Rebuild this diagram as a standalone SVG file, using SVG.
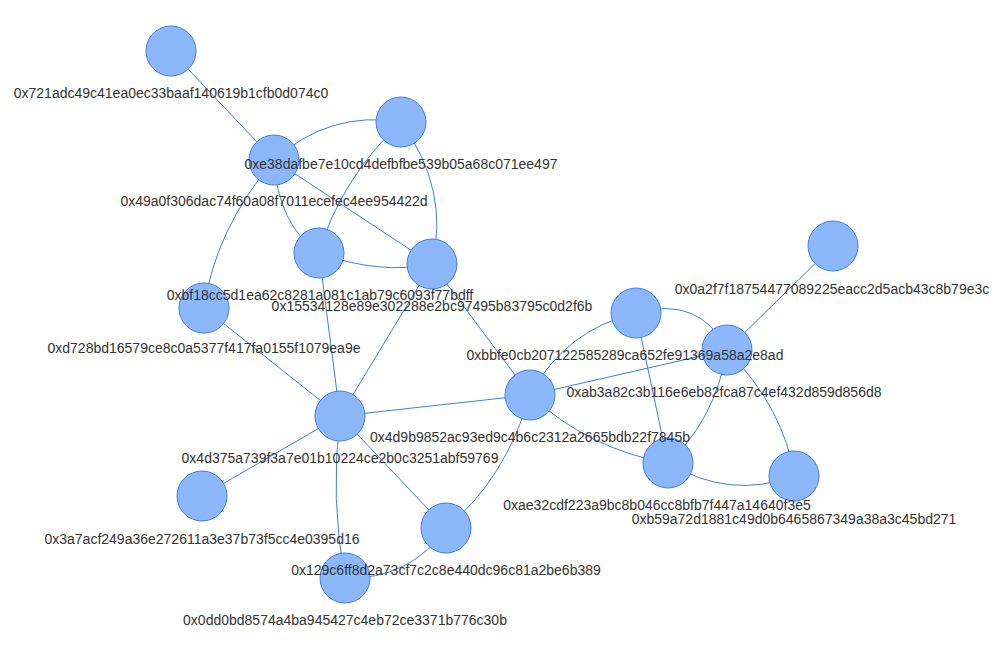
<svg xmlns="http://www.w3.org/2000/svg" width="1007" height="645" viewBox="0 0 1007 645">
<style>
.e{fill:none;stroke:#3b7ded;stroke-width:1}
.n{fill:#8cb8fb;stroke:#3b7ded;stroke-width:1}
text{font-family:"Liberation Sans",Arial,sans-serif;font-size:14px;fill:#333;text-anchor:middle}
</style>
<rect width="1007" height="645" fill="#fff"/>
<g id="edges">
<path class="e" d="M171,51L274,160"/>
<path class="e" d="M274,160Q330,110 401,122"/>
<path class="e" d="M274,160Q278,225 319,253"/>
<path class="e" d="M274,160L432,264"/>
<path class="e" d="M274,160Q215,230 204,308"/>
<path class="e" d="M401,122Q340,180 319,253"/>
<path class="e" d="M401,122Q450,190 432,264"/>
<path class="e" d="M319,253Q380,275 432,264"/>
<path class="e" d="M319,253L340,416"/>
<path class="e" d="M432,264L340,416"/>
<path class="e" d="M432,264L530,395"/>
<path class="e" d="M204,308L340,416"/>
<path class="e" d="M340,416L530,395"/>
<path class="e" d="M340,416L202,496"/>
<path class="e" d="M340,416L446,528"/>
<path class="e" d="M340,416Q330,500 345,578"/>
<path class="e" d="M446,528Q410,580 345,578"/>
<path class="e" d="M530,395Q505,480 446,528"/>
<path class="e" d="M530,395Q565,330 636,313"/>
<path class="e" d="M530,395L727,350"/>
<path class="e" d="M530,395Q590,450 668,463"/>
<path class="e" d="M636,313Q700,295 727,350"/>
<path class="e" d="M636,313L668,463"/>
<path class="e" d="M727,350L833,246"/>
<path class="e" d="M727,350Q715,420 668,463"/>
<path class="e" d="M727,350Q785,410 794,476"/>
<path class="e" d="M668,463Q730,500 794,476"/>
</g>
<g id="nodes">
<g id="n1"><circle class="n" cx="171" cy="51" r="25"/></g>
<g id="n2"><circle class="n" cx="274" cy="160" r="25"/></g>
<g id="n3"><circle class="n" cx="401" cy="122" r="25"/></g>
<g id="n4"><circle class="n" cx="319" cy="253" r="25"/></g>
<g id="n5"><circle class="n" cx="432" cy="264" r="25"/></g>
<g id="n6"><circle class="n" cx="204" cy="308" r="25"/></g>
<g id="n7"><circle class="n" cx="340" cy="416" r="25"/></g>
<g id="n8"><circle class="n" cx="530" cy="395" r="25"/></g>
<g id="n9"><circle class="n" cx="636" cy="313" r="25"/></g>
<g id="n10"><circle class="n" cx="727" cy="350" r="25"/></g>
<g id="n11"><circle class="n" cx="833" cy="246" r="25"/></g>
<g id="n12"><circle class="n" cx="668" cy="463" r="25"/></g>
<g id="n13"><circle class="n" cx="794" cy="476" r="25"/></g>
<g id="n14"><circle class="n" cx="202" cy="496" r="25"/></g>
<g id="n15"><circle class="n" cx="446" cy="528" r="25"/></g>
<g id="n16"><circle class="n" cx="345" cy="578" r="25"/></g>
</g>
<g id="labels">
<text x="171" y="98">0x721adc49c41ea0ec33baaf140619b1cfb0d074c0</text>
<text x="274" y="206">0x49a0f306dac74f60a08f7011ecefec4ee954422d</text>
<text x="401" y="169">0xe38dafbe7e10cd4defbfbe539b05a68c071ee497</text>
<text x="320" y="300">0xbf18cc5d1ea62c8281a081c1ab79c6093f77bdff</text>
<text x="432" y="311">0x15534128e89e302288e2bc97495b83795c0d2f6b</text>
<text x="204" y="353">0xd728bd16579ce8c0a5377f417fa0155f1079ea9e</text>
<text x="340" y="463">0x4d375a739f3a7e01b10224ce2b0c3251abf59769</text>
<text x="530" y="442">0x4d9b9852ac93ed9c4b6c2312a2665bdb22f7845b</text>
<text x="625" y="360">0xbbfe0cb207122585289ca652fe91369a58a2e8ad</text>
<text x="724" y="397">0xab3a82c3b116e6eb82fca87c4ef432d859d856d8</text>
<text x="832" y="294">0x0a2f7f18754477089225eacc2d5acb43c8b79e3c</text>
<text x="657" y="510">0xae32cdf223a9bc8b046cc8bfb7f447a14640f3e5</text>
<text x="794" y="524">0xb59a72d1881c49d0b6465867349a38a3c45bd271</text>
<text x="202" y="544">0x3a7acf249a36e272611a3e37b73f5cc4e0395d16</text>
<text x="446" y="575">0x129c6ff8d2a73cf7c2c8e440dc96c81a2be6b389</text>
<text x="345" y="625">0x0dd0bd8574a4ba945427c4eb72ce3371b776c30b</text>
</g>
</svg>
